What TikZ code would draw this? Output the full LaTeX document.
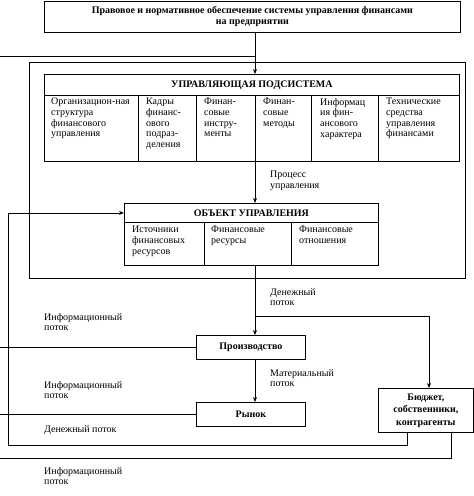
\documentclass[tikz,border=0pt]{standalone}
\usepackage{fontspec}
\setmainfont{Liberation Serif}
\usetikzlibrary{arrows.meta}
\tikzset{
  box/.style={draw, line width=0.8pt, inner sep=0pt, anchor=north west},
  cell/.style={inner sep=0pt, anchor=north west, align=left, font=\fontsize{10}{10.7}\selectfont},
  lbl/.style={inner sep=0pt, anchor=north west, align=left, font=\fontsize{10}{10.7}\selectfont},
  btxt/.style={font=\fontsize{10}{11}\selectfont\bfseries, align=center, inner sep=0pt},
  conn/.style={line width=0.8pt},
  arr/.style={conn, -{Stealth[length=5pt,width=4pt]}},
}
\begin{document}
\begin{tikzpicture}[x=1pt,y=-1pt]
\useasboundingbox (0,0) rectangle (474,496);
\coordinate (cx) at (255,0);
% top box
\node[box, minimum width=416pt, minimum height=31pt] (top) at (44,0.5) {};
\node[btxt] (toptxt) at (top.center) {Правовое и нормативное обеспечение системы управления финансами\\на предприятии};
% outer frame
\node[box, minimum width=436pt, minimum height=216pt] (frame) at (29,62) {};
% managing subsystem
\node[box, minimum width=415pt, minimum height=21pt] (uhead) at (44,74) {};
\node[btxt] (uheadtxt) at (uhead.center) {УПРАВЛЯЮЩАЯ ПОДСИСТЕМА};
\node[box, minimum width=415pt, minimum height=66pt] (ubody) at (44,95) {};
\coordinate (d1) at (138,0);
\coordinate (d2) at (196,0);
\coordinate (d3) at (255,0);
\coordinate (d4) at (311,0);
\coordinate (d5) at (378,0);
\foreach \d in {d1,d2,d3,d4,d5} \draw[conn] (ubody.north -| \d) -- (ubody.south -| \d);
\node[cell] (c1) at (51,98) {Организацион-ная\\структура\\финансового\\управления};
\node[cell] (c2) at (146,98) {Кадры\\финанс-\\ового\\подраз-\\деления};
\node[cell] (c3) at (204,98) {Финан-\\совые\\инстру-\\менты};
\node[cell] (c4) at (263,98) {Финан-\\совые\\методы};
\node[cell] (c5) at (320,98) {Информац\\ия фин-\\ансового\\характера};
\node[cell] (c6) at (386,98) {Технические\\средства\\управления\\финансами};
% object
\node[box, minimum width=254pt, minimum height=19pt] (ohead) at (124,203) {};
\node[btxt] (oheadtxt) at (ohead.center) {ОБЪЕКТ УПРАВЛЕНИЯ};
\node[box, minimum width=254pt, minimum height=43pt] (obody) at (124,222) {};
\coordinate (e1) at (204,0);
\coordinate (e2) at (291,0);
\foreach \d in {e1,e2} \draw[conn] (obody.north -| \d) -- (obody.south -| \d);
\node[cell] (o1) at (132,226) {Источники\\финансовых\\ресурсов};
\node[cell] (o2) at (211,226) {Финансовые\\ресурсы};
\node[cell] (o3) at (299,226) {Финансовые\\отношения};
% lower boxes
\node[box, minimum width=109pt, minimum height=24pt] (prod) at (196,335) {};
\node[btxt] (prodtxt) at (prod.center) {Производство};
\node[box, minimum width=109pt, minimum height=24pt] (market) at (196,402) {};
\node[btxt] (markettxt) at (market.center) {Рынок};
\node[box, minimum width=95pt, minimum height=44pt] (budget) at (378,388) {};
\node[btxt, font=\fontsize{10}{12.5}\selectfont\bfseries] (budgettxt) at (budget.center) {Бюджет,\\собственники,\\контрагенты};
% labels
\node[lbl] (l1) at (270,171) {Процесс\\управления};
\node[lbl] (l2) at (270,288) {Денежный\\поток};
\node[lbl] (l3) at (44,313) {Информационный\\поток};
\node[lbl] (l4) at (270,369) {Материальный\\поток};
\node[lbl] (l5) at (44,381) {Информационный\\поток};
\node[lbl] (l6) at (44,425) {Денежный поток};
\node[lbl] (l7) at (44,467) {Информационный\\поток};
% coordinates
\coordinate (w1) at (0,56);
\coordinate (w0) at (0,0);
\coordinate (w4) at (0,458);
\coordinate (lx) at (8,445);
\coordinate (br) at (255,316);
\coordinate (bx1) at (429,0);
\coordinate (bx2) at (407,0);
\coordinate (bx3) at (451,0);
% connectors
\draw[arr] (top.south -| cx) -- (uhead.north -| cx);
\draw[conn] (w1) -- (w1 -| cx);
\draw[arr] (ubody.south -| cx) -- (ohead.north -| cx);
\draw[arr] (obody.south -| cx) -- (prod.north -| cx);
\draw[arr] (br) -| (budget.north -| bx1);
\draw[conn] (prod.west) -- (w0 |- prod.west);
\draw[arr] (prod.south -| cx) -- (market.north -| cx);
\draw[conn] (market.west) -- (w0 |- market.west);
\draw[arr] (budget.south -| bx2) |- (lx) |- (ohead.west);
\draw[conn] (budget.south -| bx3) |- (w4);
\end{tikzpicture}
\end{document}
